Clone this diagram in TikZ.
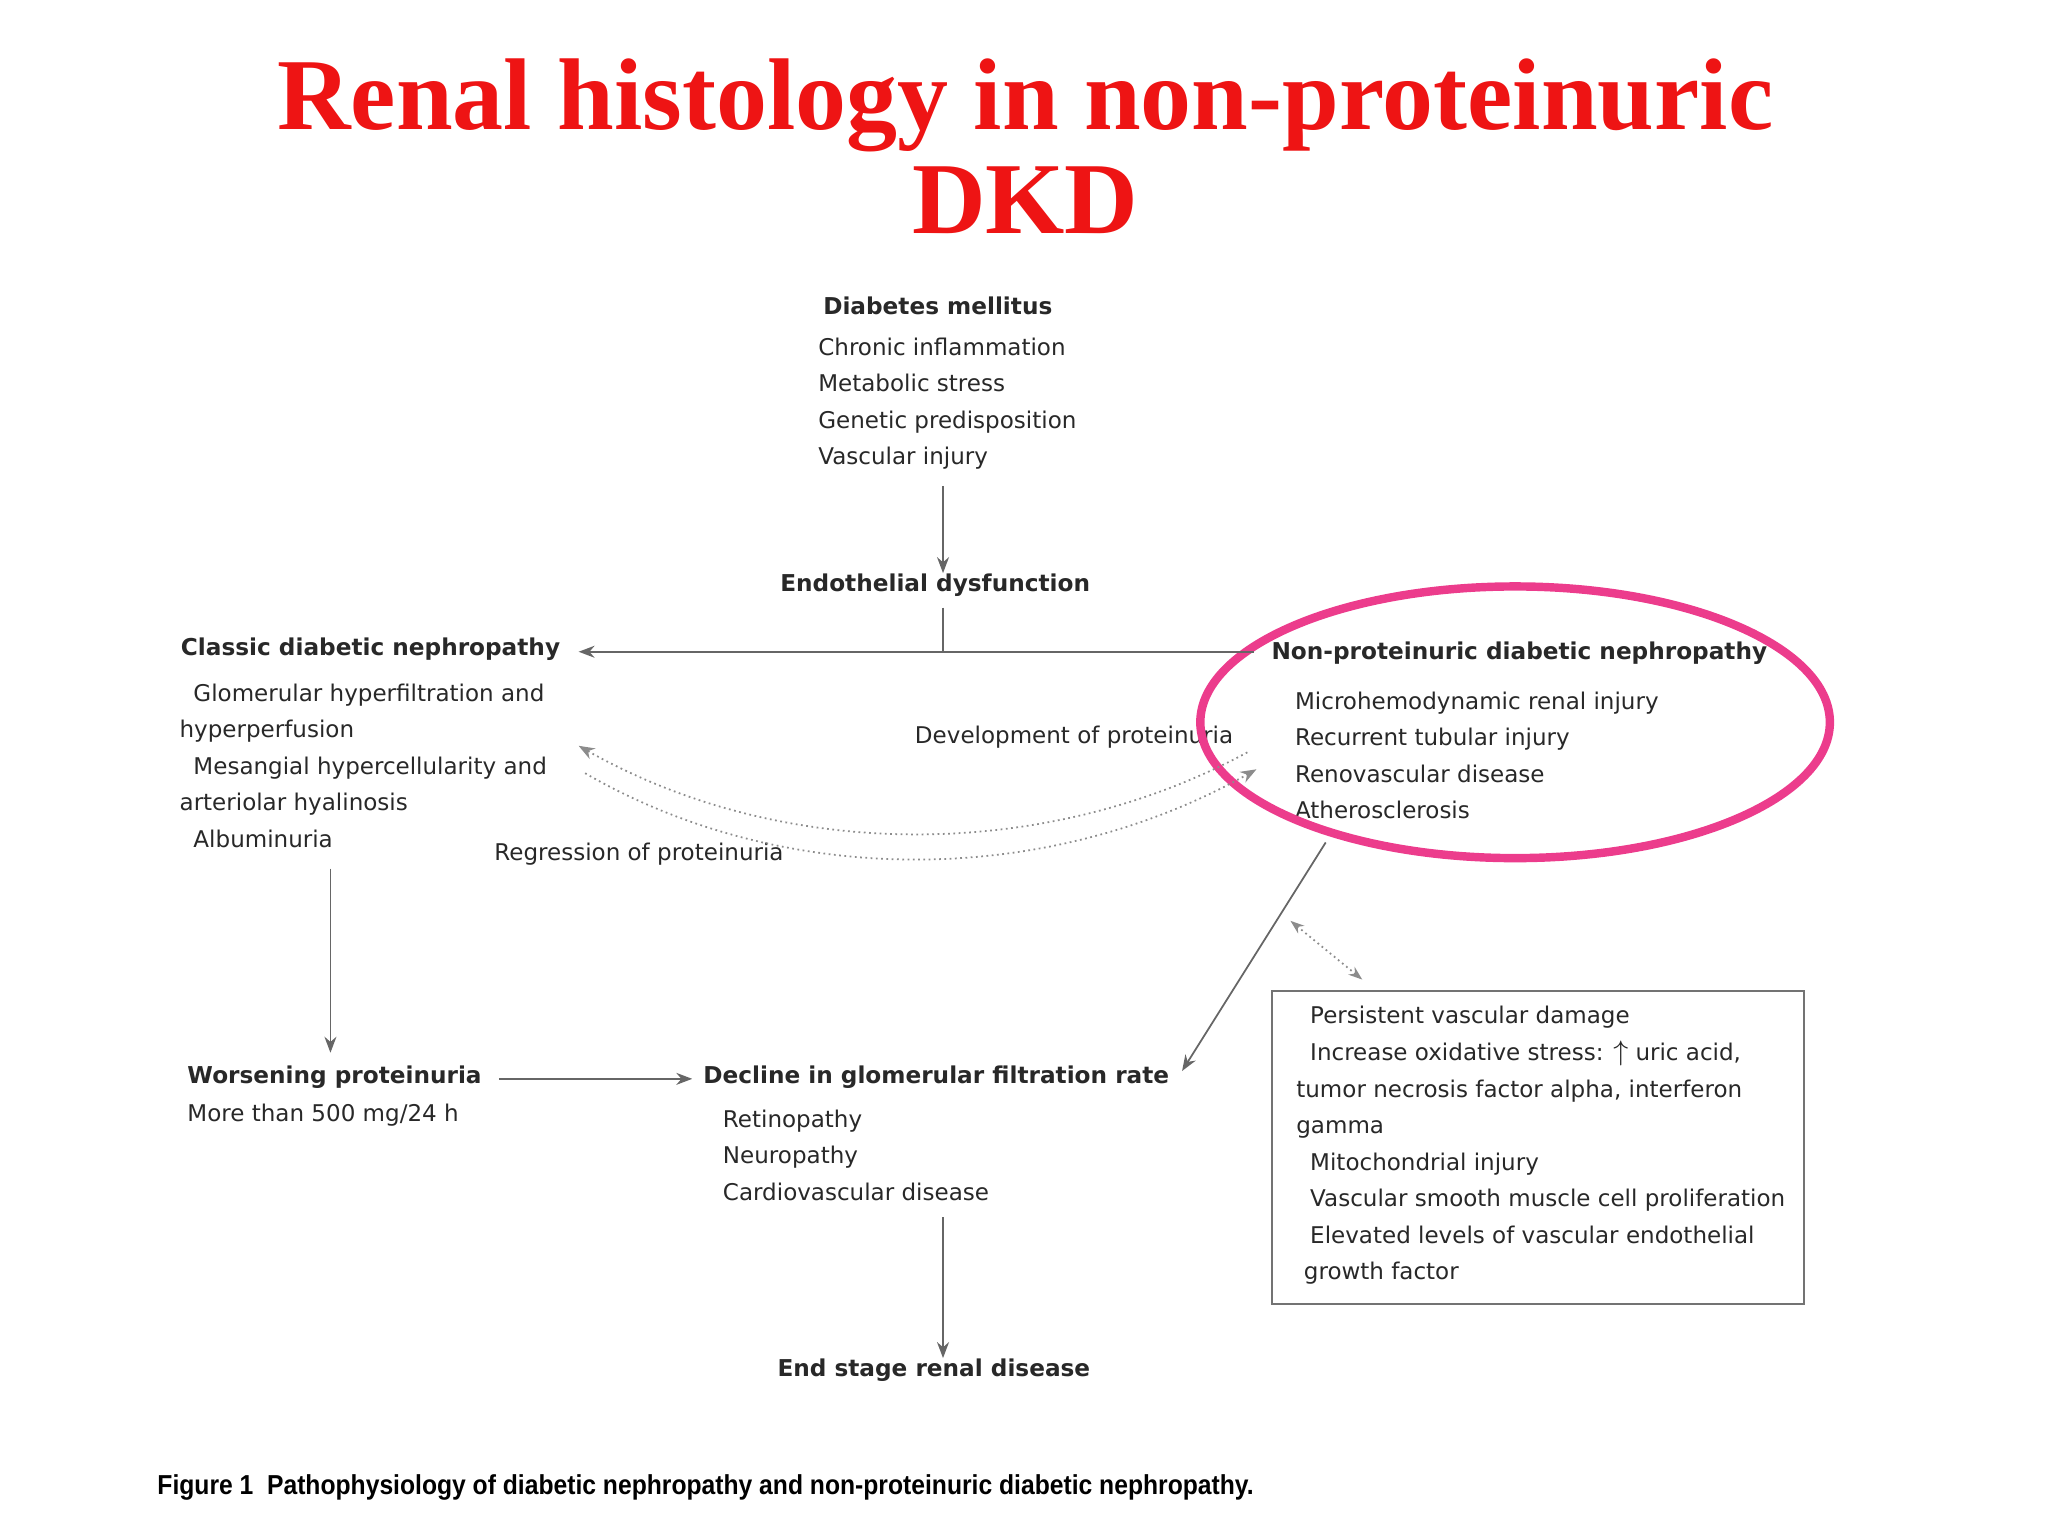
\documentclass[tikz,border=0pt]{standalone}
\usepackage{fontspec}
\setmainfont{DejaVu Sans}
\newfontfamily\titlefont{Liberation Serif}
\newfontfamily\capfont{Liberation Sans}[FakeStretch=0.9]
\usetikzlibrary{positioning,arrows.meta}
\definecolor{titlered}{RGB}{238,20,20}
\definecolor{ringpink}{RGB}{236,60,140}
\definecolor{txtgrey}{RGB}{40,40,40}
\tikzset{
  Texto/.style={inner sep=0pt, align=left, anchor=north west, text=txtgrey, font=\fontsize{6.55}{10.4}\selectfont},
  Titulo/.style={inner sep=0pt, anchor=west, text=txtgrey, font=\fontsize{6.6}{10.4}\selectfont\bfseries},
  Flecha/.style={-{Stealth[length=1.6mm,width=1.2mm]}, draw=black!60, line width=0.5pt},
  Punteada/.style={densely dotted, draw=black!45, line width=0.5pt}
}
\begin{document}
\begin{tikzpicture}[x=0.01306cm, y=-0.01306cm]
			\useasboundingbox (0,0) rectangle (1568,1176);
			%Titulo
			\node[align=center, text=titlered, font=\fontsize{29}{29.7}\selectfont\titlefont\bfseries] (titulo) at (785,112) {Renal histology in non-proteinuric\\DKD};

			%Nodos
			\node[Titulo, anchor=center] (diabetes) at (718,234) {Diabetes mellitus};
			\node[Texto] (causas) at (626,258) {Chronic inflammation\\Metabolic stress\\Genetic predisposition\\Vascular injury};
			\node[Titulo, anchor=center] (endotelio) at (716,448) {Endothelial dysfunction};

			\node[Titulo] (clasica) at (138,497) {Classic diabetic nephropathy};
			\node[Texto] (clasica_txt) at (137,523) {\hspace*{1.1ex}Glomerular hyperfiltration and\\hyperperfusion\\\hspace*{1.1ex}Mesangial hypercellularity and\\arteriolar hyalinosis\\\hspace*{1.1ex}Albuminuria};

			\node[Titulo] (noprot) at (973,500) {Non-proteinuric diabetic nephropathy};
			\node[Texto] (noprot_txt) at (991,529) {Microhemodynamic renal injury\\Recurrent tubular injury\\Renovascular disease\\Atherosclerosis};

			\node[Texto, anchor=west] (desarrollo) at (700,564) {Development of proteinuria};
			\node[Texto, anchor=west] (regresion) at (378,654) {Regression of proteinuria};

			\node[Titulo] (empeora) at (143,825) {Worsening proteinuria};
			\node[Texto, anchor=west] (empeora_txt) at (143,854) {More than 500 mg/24 h};

			\node[Titulo] (declive) at (538,825) {Decline in glomerular filtration rate};
			\node[Texto] (declive_txt) at (553,849) {Retinopathy\\Neuropathy\\Cardiovascular disease};

			\node[draw=black!55, line width=0.6pt, inner sep=0pt, anchor=north west, minimum width=5.32cm, minimum height=3.13cm] (caja) at (973,758) {};
			\node[Texto] (caja_txt) at (992,770) {\hspace*{1.1ex}Persistent vascular damage\\\hspace*{1.1ex}Increase oxidative stress: {\fontsize{8}{10}\selectfont$\uparrow$} uric acid,\\tumor necrosis factor alpha, interferon\\gamma\\\hspace*{1.1ex}Mitochondrial injury\\\hspace*{1.1ex}Vascular smooth muscle cell proliferation\\\hspace*{1.1ex}Elevated levels of vascular endothelial\\\hspace*{0.6ex}growth factor};

			\node[Titulo, anchor=center] (terminal) at (715,1049) {End stage renal disease};

			\node[inner sep=0pt, anchor=west, font=\fontsize{7.8}{9}\selectfont\capfont\bfseries] (pie) at (120,1139) {Figure 1\enspace Pathophysiology of diabetic nephropathy and non-proteinuric diabetic nephropathy.};

			%Anillo
			\draw[ringpink, line width=2.4pt] (1160,553) ellipse [x radius=241, y radius=104];

			%Lineas
			\coordinate (rama) at (722,499);
			\draw[Flecha] (722,372) -- (endotelio.north -| rama);
			\draw[draw=black!60, line width=0.5pt] (endotelio.south -| rama) ++(0,8) -- (rama);
			\draw[Flecha] (960,499) -- (443,499);
			\draw[Flecha, Punteada] (955,576) .. controls (800,660) and (600,660) .. (443,571);
			\draw[Flecha, Punteada] (448,592) .. controls (600,680) and (800,680) .. (962,589);
			\draw[Flecha] (253,665) -- (253,806);
			\draw[Flecha] (382,826) -- (530,826);
			\draw[Flecha] (1015,645) -- (905,820);
			\draw[Punteada, {Stealth[length=1.4mm,width=1mm]}-{Stealth[length=1.4mm,width=1mm]}] (988,705) -- (1043,750);
			\draw[Flecha] (722,932) -- (terminal.north -| rama);
		\end{tikzpicture}
\end{document}
